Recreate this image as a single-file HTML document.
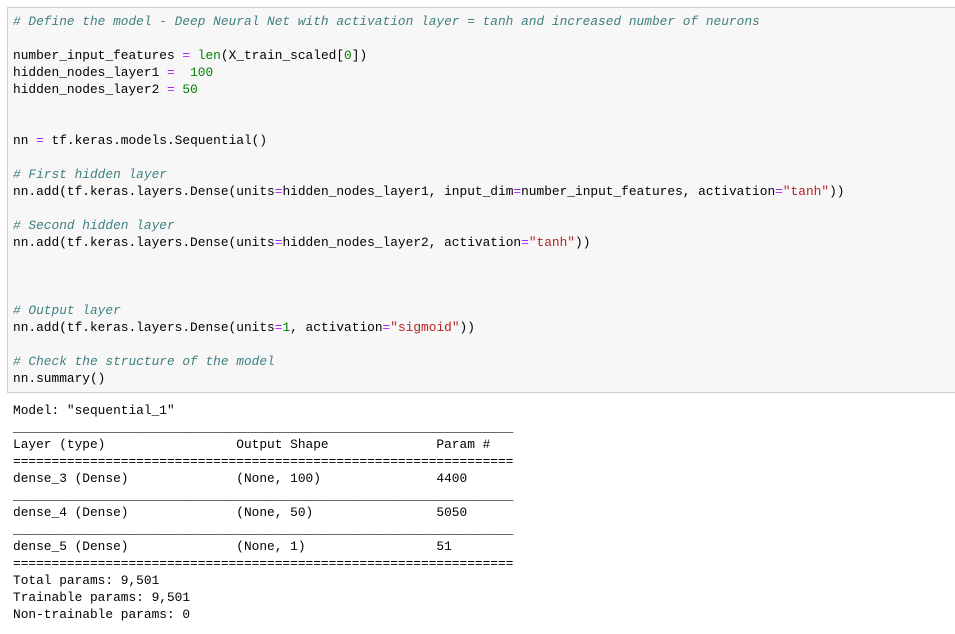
<!DOCTYPE html>
<html><head><style>
body{margin:0;background:#fff;width:955px;height:634px;overflow:hidden;}
.cell{position:absolute;left:7px;top:7px;width:960px;height:386px;background:#f7f7f7;border:1px solid #cfcfcf;box-sizing:border-box;}
pre{margin:0;font-family:"Liberation Mono",monospace;white-space:pre;color:#000;}
.code{position:absolute;left:13px;top:13px;font-size:12.83px;line-height:17px;}
.out{position:absolute;left:13px;top:402px;font-size:12.83px;line-height:17px;}
.c{color:#408080;font-style:italic}
.o{color:#aa22ff}
.n{color:#008000}
.s{color:#ba2121}
</style></head><body>
<div class="cell"></div>
<pre class="code"><span class="c"># Define the model - Deep Neural Net with activation layer = tanh and increased number of neurons</span>

number_input_features <span class="o">=</span> <span class="n">len</span>(X_train_scaled[<span class="n">0</span>])
hidden_nodes_layer1 <span class="o">=</span>  <span class="n">100</span>
hidden_nodes_layer2 <span class="o">=</span> <span class="n">50</span>


nn <span class="o">=</span> tf.keras.models.Sequential()

<span class="c"># First hidden layer</span>
nn.add(tf.keras.layers.Dense(units<span class="o">=</span>hidden_nodes_layer1, input_dim<span class="o">=</span>number_input_features, activation<span class="o">=</span><span class="s">"tanh"</span>))

<span class="c"># Second hidden layer</span>
nn.add(tf.keras.layers.Dense(units<span class="o">=</span>hidden_nodes_layer2, activation<span class="o">=</span><span class="s">"tanh"</span>))



<span class="c"># Output layer</span>
nn.add(tf.keras.layers.Dense(units<span class="o">=</span><span class="n">1</span>, activation<span class="o">=</span><span class="s">"sigmoid"</span>))

<span class="c"># Check the structure of the model</span>
nn.summary()</pre>
<pre class="out">Model: "sequential_1"
_________________________________________________________________
Layer (type)                 Output Shape              Param #   
=================================================================
dense_3 (Dense)              (None, 100)               4400      
_________________________________________________________________
dense_4 (Dense)              (None, 50)                5050      
_________________________________________________________________
dense_5 (Dense)              (None, 1)                 51        
=================================================================
Total params: 9,501
Trainable params: 9,501
Non-trainable params: 0</pre>
</body></html>
